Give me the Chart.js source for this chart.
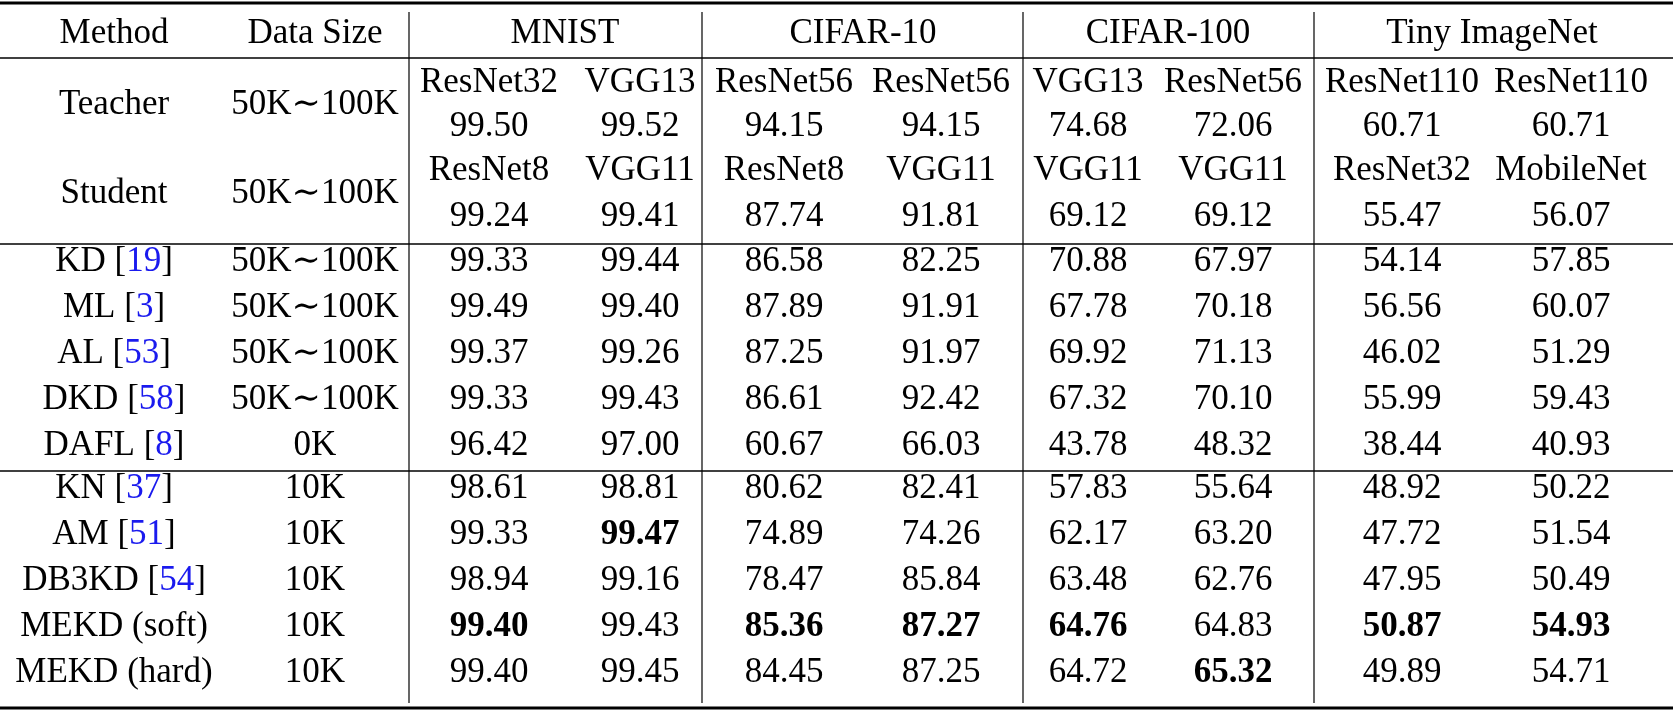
<!DOCTYPE html>
<html>
<head>
<meta charset="utf-8">
<script src="https://cdn.jsdelivr.net/npm/chart.js@4"></script>
<style>
  html, body { margin: 0; padding: 0; background: #fff; }
  #wrap { width: 1673px; height: 713px; }
</style>
</head>
<body>
<div id="wrap"><canvas id="tableChart"></canvas></div>
<script>
// table content
const datasets = ["MNIST", "CIFAR-10", "CIFAR-100", "Tiny ImageNet"];
const teacherModels = ["ResNet32", "VGG13", "ResNet56", "ResNet56", "VGG13", "ResNet56", "ResNet110", "ResNet110"];
const teacherAcc = ["99.50", "99.52", "94.15", "94.15", "74.68", "72.06", "60.71", "60.71"];
const studentModels = ["ResNet8", "VGG11", "ResNet8", "VGG11", "VGG11", "VGG11", "ResNet32", "MobileNet"];
const studentAcc = ["99.24", "99.41", "87.74", "91.81", "69.12", "69.12", "55.47", "56.07"];

const methods = ["KD", "ML", "AL", "DKD", "DAFL", "KN", "AM", "DB3KD", "MEKD (soft)", "MEKD (hard)"];
const citations = ["19", "3", "53", "58", "8", "37", "51", "54", "", ""];
const dataSizes = ["50K\u223C100K", "50K\u223C100K", "50K\u223C100K", "50K\u223C100K", "0K", "10K", "10K", "10K", "10K", "10K"];
const results = [
  ["99.33", "99.44", "86.58", "82.25", "70.88", "67.97", "54.14", "57.85"],
  ["99.49", "99.40", "87.89", "91.91", "67.78", "70.18", "56.56", "60.07"],
  ["99.37", "99.26", "87.25", "91.97", "69.92", "71.13", "46.02", "51.29"],
  ["99.33", "99.43", "86.61", "92.42", "67.32", "70.10", "55.99", "59.43"],
  ["96.42", "97.00", "60.67", "66.03", "43.78", "48.32", "38.44", "40.93"],
  ["98.61", "98.81", "80.62", "82.41", "57.83", "55.64", "48.92", "50.22"],
  ["99.33", "99.47", "74.89", "74.26", "62.17", "63.20", "47.72", "51.54"],
  ["98.94", "99.16", "78.47", "85.84", "63.48", "62.76", "47.95", "50.49"],
  ["99.40", "99.43", "85.36", "87.27", "64.76", "64.83", "50.87", "54.93"],
  ["99.40", "99.45", "84.45", "87.25", "64.72", "65.32", "49.89", "54.71"]
];
// [row, col] of bold entries
const boldCells = [[6, 1], [8, 0], [8, 2], [8, 3], [8, 4], [8, 6], [8, 7], [9, 5]];

// layout (in scale units = px)
const colX = [489, 640, 784, 941, 1088, 1233, 1402, 1571];
const headX = [565, 863, 1168, 1492];
const methodX = 114, sizeX = 315;
const headerY = 34;
const teacherY = [83, 127], studentY = [171, 217];
const rowY = [262, 308, 354, 400, 446, 489, 535, 581, 627, 673];
const hRules = [[3, 3], [58, 1.5], [244, 1.5], [471, 1.5], [708, 3]];
const vRules = [409, 702, 1023, 1314];

const points = [];
results.forEach((r, i) => r.forEach((v, j) => points.push({ x: colX[j], y: rowY[i] })));

const FONT = "'Liberation Serif', 'DejaVu Serif', serif";
const SIZE = 35;

const tablePlugin = {
  id: "tableText",
  afterDatasetsDraw(chart) {
    const ctx = chart.ctx;
    const xs = chart.scales.x, ys = chart.scales.y;
    const px = v => xs.getPixelForValue(v);
    const py = v => ys.getPixelForValue(v);
    ctx.save();
    ctx.fillStyle = "#000";
    ctx.strokeStyle = "#000";
    hRules.forEach(([y, w]) => {
      ctx.lineWidth = w;
      ctx.beginPath(); ctx.moveTo(px(0), py(y)); ctx.lineTo(px(1673), py(y)); ctx.stroke();
    });
    ctx.lineWidth = 1.2;
    vRules.forEach(x => {
      ctx.beginPath(); ctx.moveTo(px(x), py(12)); ctx.lineTo(px(x), py(703)); ctx.stroke();
    });
    ctx.textAlign = "center";
    ctx.textBaseline = "middle";
    const text = (s, x, y, bold) => {
      ctx.font = (bold ? "bold " : "") + SIZE + "px " + FONT;
      ctx.fillText(s, px(x), py(y));
    };
    text("Method", methodX, headerY);
    text("Data Size", sizeX, headerY);
    datasets.forEach((d, i) => text(d, headX[i], headerY));
    text("Teacher", methodX, (teacherY[0] + teacherY[1]) / 2);
    text("50K\u223C100K", sizeX, (teacherY[0] + teacherY[1]) / 2);
    text("Student", methodX, (studentY[0] + studentY[1]) / 2);
    text("50K\u223C100K", sizeX, (studentY[0] + studentY[1]) / 2);
    colX.forEach((x, j) => {
      text(teacherModels[j], x, teacherY[0]);
      text(teacherAcc[j], x, teacherY[1]);
      text(studentModels[j], x, studentY[0]);
      text(studentAcc[j], x, studentY[1]);
    });
    methods.forEach((m, i) => {
      ctx.font = SIZE + "px " + FONT;
      const cite = citations[i] ? " [" + citations[i] + "]" : "";
      const total = ctx.measureText(m + cite).width;
      let x0 = px(methodX) - total / 2;
      const y = py(rowY[i]);
      ctx.textAlign = "left";
      ctx.fillStyle = "#000";
      ctx.fillText(m + (cite ? " [" : ""), x0, y);
      if (cite) {
        x0 += ctx.measureText(m + " [").width;
        ctx.fillStyle = "#1a1aee";
        ctx.fillText(citations[i], x0, y);
        x0 += ctx.measureText(citations[i]).width;
        ctx.fillStyle = "#000";
        ctx.fillText("]", x0, y);
      }
      ctx.textAlign = "center";
      text(dataSizes[i], sizeX, rowY[i]);
      results[i].forEach((v, j) => {
        const b = boldCells.some(c => c[0] === i && c[1] === j);
        text(v, colX[j], rowY[i], b);
      });
    });
    ctx.restore();
  }
};

new Chart(document.getElementById("tableChart").getContext("2d"), {
  type: "scatter",
  data: { datasets: [{ data: points, pointRadius: 0, showLine: false }] },
  options: {
    responsive: true,
    maintainAspectRatio: false,
    animation: false,
    layout: { padding: 0 },
    plugins: { legend: { display: false }, tooltip: { enabled: false } },
    scales: {
      x: { type: "linear", min: 0, max: 1673, display: false },
      y: { type: "linear", min: 0, max: 713, reverse: true, display: false }
    }
  },
  plugins: [tablePlugin]
});
</script>
</body>
</html>
